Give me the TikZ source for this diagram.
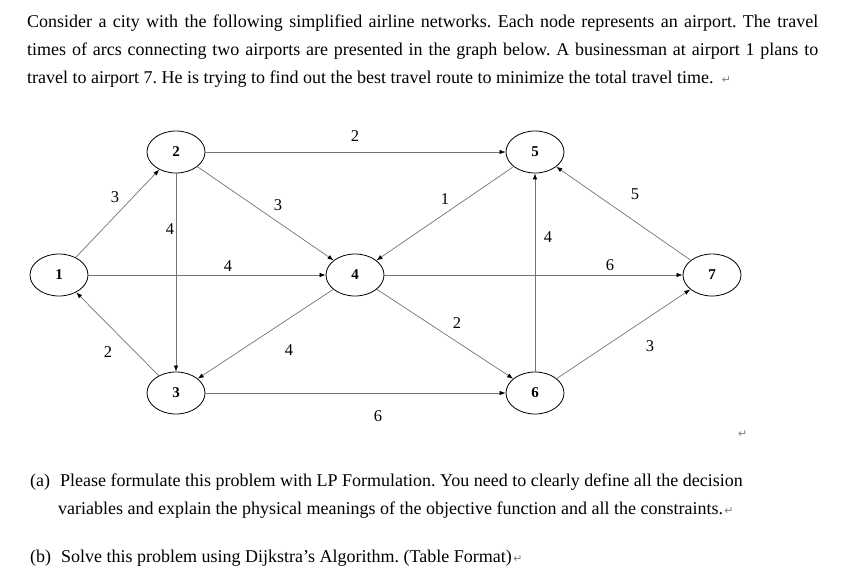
\documentclass[tikz,border=0pt]{standalone}
\usepackage{fontspec}
\setmainfont{Liberation Serif}
\newfontfamily\symf{DejaVu Sans}
\usetikzlibrary{arrows.meta,shapes.geometric}
\frenchspacing
\begin{document}
\begin{tikzpicture}[x=1pt,y=-1pt,
  ap/.style={ellipse,draw,line width=0.8pt,minimum width=58pt,minimum height=42pt,inner sep=0pt,font=\fontsize{15}{15}\selectfont\bfseries},
  ed/.style={draw=black!55,line width=0.7pt,-{Latex[length=6pt,width=4.5pt,color=black]}},
  lb/.style={font=\fontsize{16.5}{16.5}\selectfont},
  tx/.style={anchor=base west,inner sep=0pt,font=\fontsize{18}{18}\selectfont},
  rt/.style={font=\symf\fontsize{11}{11}\selectfont,text=black!50,inner sep=0pt,anchor=base west}]
\useasboundingbox (0,0) rectangle (843,579);
\node[tx] (t1) at (27,27) {\makebox[791pt][s]{Consider a city with the following simplified airline networks. Each node represents an airport. The travel}};
\node[tx] (t2) at (27,55) {\makebox[791pt][s]{times of arcs connecting two airports are presented in the graph below. A businessman at airport 1 plans to}};
\node[tx] (t3) at (27,83) {travel to airport 7. He is trying to find out the best travel route to minimize the total travel time.};
\node[rt] (r1) at ([xshift=8pt]t3.base east) {↵};

\node[ap] (n1) at (59,275) {1};
\node[ap] (n2) at (176,152) {2};
\node[ap] (n3) at (176,393) {3};
\node[ap] (n4) at (355,275) {4};
\node[ap] (n5) at (535,152) {5};
\node[ap] (n6) at (535,393) {6};
\node[ap] (n7) at (712,275) {7};

\draw[ed] (n1) -- (n2);
\draw[ed] (n3) -- (n1);
\draw[ed] (n1) -- (n4);
\draw[ed] (n2) -- (n3);
\draw[ed] (n2) -- (n4);
\draw[ed] (n2) -- (n5);
\draw[ed] (n5) -- (n4);
\draw[ed] (n4) -- (n7);
\draw[ed] (n4) -- (n3);
\draw[ed] (n4) -- (n6);
\draw[ed] (n3) -- (n6);
\draw[ed] (n6) -- (n5);
\draw[ed] (n6) -- (n7);
\draw[ed] (n7) -- (n5);

\node[lb] (l12) at (115,197) {3};
\node[lb] (l31) at (108,352) {2};
\node[lb] (l14) at (228,266) {4};
\node[lb] (l23) at (170,229) {4};
\node[lb] (l24) at (278,205) {3};
\node[lb] (l25) at (355,136) {2};
\node[lb] (l43) at (289,350) {4};
\node[lb] (l36) at (378,416) {6};
\node[lb] (l54) at (445,199) {1};
\node[lb] (l46) at (457,323) {2};
\node[lb] (l65) at (548,237) {4};
\node[lb] (l47) at (610,265) {6};
\node[lb] (l75) at (635,194) {5};
\node[lb] (l67) at (650,346) {3};

\node[rt] (r2) at (738,437) {↵};
\node[tx] (a1) at (30,486) {(a)\hspace{10pt}Please formulate this problem with LP Formulation. You need to clearly define all the decision};
\node[tx] (a2) at (58,514) {variables and explain the physical meanings of the objective function and all the constraints.};
\node[rt] (r3) at ([xshift=1pt]a2.base east) {↵};
\node[tx] (b1) at (30,562) {(b)\hspace{10pt}Solve this problem using Dijkstra’s Algorithm. (Table Format)};
\node[rt] (r4) at ([xshift=1pt]b1.base east) {↵};
\end{tikzpicture}
\end{document}
